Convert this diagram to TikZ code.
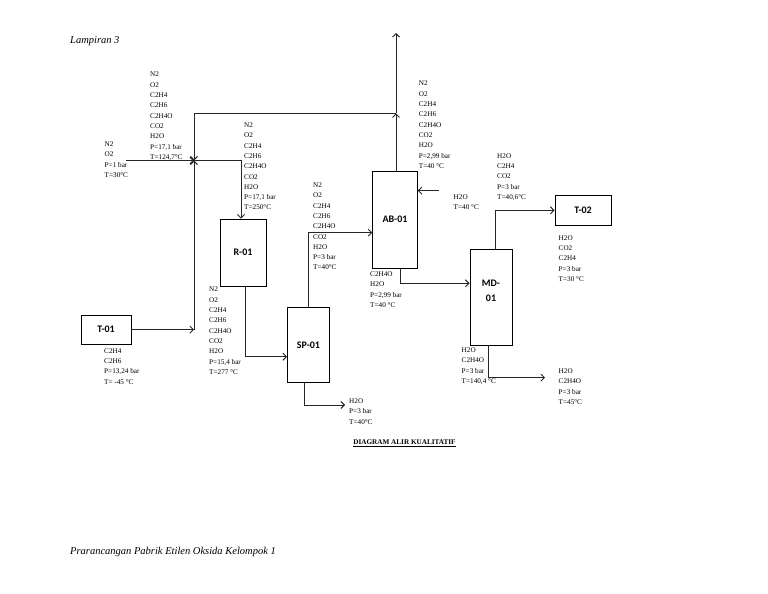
\documentclass[tikz,border=0pt]{standalone}
\usepackage{fontspec}
\setmainfont{Liberation Serif}[ItalicFont={Liberation Serif Italic},BoldFont={Liberation Serif Bold}]
\newfontfamily\boxfont{Carlito}
\usetikzlibrary{arrows.meta,calc}
\tikzset{
  flow/.style={line width=0.9pt, draw=black!85, -{Straight Barb[length=3.5pt,width=7pt]}},
  plain/.style={line width=0.9pt, draw=black!85},
  unit/.style={draw=black, line width=0.9pt, fill=white, inner sep=0pt,
    font=\boxfont\bfseries\fontsize{10}{15}\selectfont, align=center},
  lbl/.style={font=\fontsize{7.2}{10.3}\selectfont, align=left, anchor=north west, inner sep=0pt},
}
\begin{document}
\begin{tikzpicture}[x=1pt,y=-1pt]
\useasboundingbox (0,0) rectangle (768,594);

% units
\node[unit, minimum width=50pt, minimum height=29pt] (T1) at (106,329.7) {T-01};
\node[unit, minimum width=46pt, minimum height=67pt] (R1) at (243,252.5) {R-01};
\node[unit, minimum width=42pt, minimum height=74.6pt] (SP) at (308.5,345) {SP-01};
\node[unit, minimum width=44.6pt, minimum height=97.3pt] (AB) at (395,219.7) {AB-01};
\node[unit, minimum width=42pt, minimum height=96pt] (MD) at (491,297) {};
\node[font=\boxfont\bfseries\fontsize{10}{15}\selectfont, align=center, inner sep=0pt] (MDt) at (491,291) {MD-\\01};
\node[unit, minimum width=56pt, minimum height=29.3pt] (T2) at (583,210.3) {T-02};

% coordinates
\coordinate (J) at (194,160.5);
\coordinate (J2) at (194,329.7);
\coordinate (FEED) at (125.7,160.5);
\coordinate (TL) at (194,113.3);
\coordinate (TR) at (396,113.3);
\coordinate (TOP) at (396,33);
\coordinate (WIN) at (439,190.7);
\coordinate (SPOUT) at (345,405);
\coordinate (MDOUT) at (545,377.7);

% connectors
\draw[flow] (FEED) -- (J);
\draw[flow] (T1.east) -- (J2);
\draw[flow] (J2) -- (J);
\draw[flow] (TR) -- (TL) -- (J);
\draw[flow] (J) -| ([xshift=-2pt]R1.north);
\draw[flow] ([xshift=2pt]R1.south) |- ([yshift=-11.7pt]SP.west);
\draw[flow] (SP.north) |- ([yshift=-13pt]AB.west);
\draw[flow] ([xshift=-4.5pt]SP.south) |- (SPOUT);
\draw[flow] ([xshift=1pt]AB.north) -- (TR);
\draw[flow] (TR) -- (TOP);
\draw[flow] (WIN) -- (WIN -| AB.east);
\draw[flow] ([xshift=5pt]AB.south) |- ([yshift=13.7pt]MD.west);
\draw[flow] ([xshift=4pt]MD.north) |- (T2.west);
\draw[flow] ([xshift=-2.7pt]MD.south) |- (MDOUT);

% stream labels
\node[lbl] (L1) at (150,72) {N2\\O2\\C2H4\\C2H6\\C2H4O\\CO2\\H2O\\P=17,1 bar\\T=124,7°C};
\node[lbl] (L2) at (104.5,141.6) {N2\\O2\\P=1 bar\\T=30°C};
\node[lbl] (L3) at (244,122.6) {N2\\O2\\C2H4\\C2H6\\C2H4O\\CO2\\H2O\\P=17,1 bar\\T=250°C};
\node[lbl] (L4) at (104,348.3) {C2H4\\C2H6\\P=13,24 bar\\T= -45 °C};
\node[lbl] (L5) at (209,287) {N2\\O2\\C2H4\\C2H6\\C2H4O\\CO2\\H2O\\P=15,4 bar\\T=277 °C};
\node[lbl] (L6) at (313,182.6) {N2\\O2\\C2H4\\C2H6\\C2H4O\\CO2\\H2O\\P=3 bar\\T=40°C};
\node[lbl] (L7) at (349,398.6) {H2O\\P=3 bar\\T=40°C};
\node[lbl] (L8) at (418.7,81) {N2\\O2\\C2H4\\C2H6\\C2H4O\\CO2\\H2O\\P=2,99 bar\\T=40 °C};
\node[lbl] (L9) at (370,271.5) {C2H4O\\H2O\\P=2,99 bar\\T=40 °C};
\node[lbl] (L10) at (453.5,194.3) {H2O\\T=40 °C};
\node[lbl] (L11) at (497,153.3) {H2O\\C2H4\\CO2\\P=3 bar\\T=40,6°C};
\node[lbl] (L12) at (558.5,235.3) {H2O\\CO2\\C2H4\\P=3 bar\\T=30 °C};
\node[lbl] (L13) at (461.5,347.6) {H2O\\C2H4O\\P=3 bar\\T=140,4 °C};
\node[lbl] (L14) at (558.5,368.6) {H2O\\C2H4O\\P=3 bar\\T=45°C};

% titles
\node[anchor=west, inner sep=0pt, font=\itshape\fontsize{10.5}{12}\selectfont] (lamp) at (70,40.7) {Lampiran 3};
\node[inner sep=0pt, font=\bfseries\fontsize{7.2}{9}\selectfont] (title) at (404.5,443) {\underline{DIAGRAM ALIR KUALITATIF}};
\node[anchor=west, inner sep=0pt, font=\itshape\fontsize{10.5}{12}\selectfont] (foot) at (70,552.3) {Prarancangan Pabrik Etilen Oksida Kelompok 1};
\end{tikzpicture}
\end{document}
